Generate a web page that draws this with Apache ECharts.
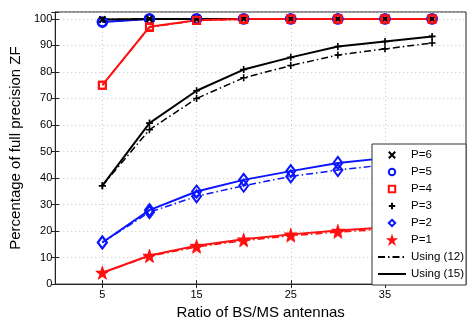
<!DOCTYPE html>
<html><head><meta charset="utf-8">
<script src="https://cdn.jsdelivr.net/npm/echarts@6/dist/echarts.min.js"></script>
<style>html,body{margin:0;padding:0;background:#fff}#c{width:474px;height:325px}</style>
</head><body><div id="c"></div>
<script>
const ratios = [5, 10, 15, 20, 25, 30, 35, 40];
const xTicks = [5, 15, 25, 35];
// "Using (15)" = solid, "Using (12)" = dash-dot
const p6_15 = [99.8, 100, 100, 100, 100, 100, 100, 100];
const p6_12 = [99.8, 100, 100, 100, 100, 100, 100, 100];
const p5_15 = [98.8, 100, 100, 100, 100, 100, 100, 100];
const p5_12 = [98.8, 100, 100, 100, 100, 100, 100, 100];
const p4_15 = [75, 97, 99.5, 100, 100, 100, 100, 100];
const p4_12 = [75, 96.8, 99.4, 99.8, 100, 100, 100, 100];
const p3_15 = [37.1, 60.7, 72.9, 80.9, 85.5, 89.6, 91.5, 93.4];
const p3_12 = [37.1, 58.2, 70.0, 77.8, 82.4, 86.4, 88.7, 90.9];
const p2_15 = [15.7, 27.9, 34.9, 39.3, 42.6, 45.7, 47.5, 49.0];
const p2_12 = [15.7, 27.1, 33.1, 37.1, 40.6, 43.0, 45.0, 46.5];
const p1_15 = [4.3, 10.8, 14.5, 16.9, 18.75, 20.2, 21.3, 22.2];
const p1_12 = [4.3, 10.5, 14.0, 16.4, 18.2, 19.6, 20.7, 21.6];

const RED = '#ff1010', BLUE = '#0a14ff', BLACK = '#000';
const SX = 'path://M0,0L10,10M10,0L0,10';
const SPLUS = 'path://M5,0L5,10M0,5L10,5';
const SSTAR = 'path://M50,0L61.8,36.2L100,36.2L69.1,58.8L80.9,95.1L50,72.7L19.1,95.1L30.9,58.8L0,36.2L38.2,36.2Z';
const DASHDOT = [7, 3, 1.5, 3];

const markers = {
  6: {symbol: SX, size: 6, color: BLACK, fill: 'transparent', bw: 2},
  5: {symbol: 'circle', size: 9, color: BLUE, fill: 'transparent', bw: 2.4},
  4: {symbol: 'rect', size: 7, color: RED, fill: 'transparent', bw: 2},
  3: {symbol: SPLUS, size: 7, color: BLACK, fill: 'transparent', bw: 1.6},
  2: {symbol: 'diamond', size: [9, 12], color: BLUE, fill: 'transparent', bw: 2},
  1: {symbol: SSTAR, size: 13, color: RED, fill: RED, bw: 0.5}
};

function mk(p, vals, dashed) {
  const m = markers[p];
  return {
    name: 'P=' + p + (dashed ? ' (12)' : ' (15)'),
    type: 'line',
    data: ratios.map((x, i) => [x, vals[i]]),
    symbol: m.symbol, symbolSize: m.size, showSymbol: true,
    lineStyle: {color: m.color, width: dashed ? 1.5 : 2, type: dashed ? DASHDOT : 'solid'},
    itemStyle: {color: m.fill, borderColor: m.color, borderWidth: m.bw},
    emphasis: {disabled: true}, animation: false, z: 2
  };
}
function legendOnly(p) {
  const m = markers[p];
  return {
    name: 'P=' + p, type: 'line', data: [],
    symbol: m.symbol, symbolSize: m.size,
    lineStyle: {width: 0, color: m.color, opacity: 0},
    itemStyle: {color: m.fill, borderColor: m.color, borderWidth: m.bw}
  };
}

const series = [
  mk(1, p1_12, true), mk(1, p1_15, false),
  mk(2, p2_12, true), mk(2, p2_15, false),
  mk(3, p3_12, true), mk(3, p3_15, false),
  mk(5, p5_12, true), mk(5, p5_15, false),
  mk(6, p6_12, true), mk(6, p6_15, false),
  mk(4, p4_12, true), mk(4, p4_15, false),
  legendOnly(6), legendOnly(5), legendOnly(4), legendOnly(3), legendOnly(2), legendOnly(1),
  {name: 'Using (12)', type: 'line', data: [], symbol: 'none', lineStyle: {color: BLACK, width: 1.5, type: DASHDOT}, itemStyle: {color: BLACK}},
  {name: 'Using (15)', type: 'line', data: [], symbol: 'none', lineStyle: {color: BLACK, width: 2}, itemStyle: {color: BLACK}}
];

const noMark = {color: 'transparent', borderColor: 'transparent', borderWidth: 0, opacity: 0};
const FONT = '"Liberation Sans", Arial, sans-serif';
const chart = echarts.init(document.getElementById('c'), null, {renderer: 'canvas'});
chart.setOption({
  animation: false,
  backgroundColor: '#fff',
  grid: {left: 45, right: 8, top: 12, bottom: 34, show: true, borderColor: '#222', borderWidth: 1, backgroundColor: 'transparent'},
  xAxis: [{
    type: 'value', min: 0, max: 43.6,
    name: 'Ratio of BS/MS antennas', nameLocation: 'middle', nameGap: 13,
    nameTextStyle: {fontFamily: FONT, fontSize: 15, color: '#000'},
    axisLine: {show: true, onZero: false, lineStyle: {color: '#222'}},
    axisTick: {show: true, inside: true, length: 4, customValues: xTicks, lineStyle: {color: '#222'}},
    axisLabel: {customValues: xTicks, fontFamily: FONT, fontSize: 11, color: '#000', margin: 5},
    splitLine: {show: true, lineStyle: {color: '#c8c8c8', type: [1, 3]}}
  }, {
    type: 'value', min: 0, max: 43.6, position: 'top',
    axisLine: {show: false},
    axisTick: {show: true, inside: true, length: 4, customValues: xTicks, lineStyle: {color: '#222'}},
    axisLabel: {show: false}, splitLine: {show: false}
  }],
  yAxis: [{
    type: 'value', min: 0, max: 102.6, interval: 10,
    name: 'Percentage of full precision ZF', nameLocation: 'middle', nameGap: 23,
    nameTextStyle: {fontFamily: FONT, fontSize: 15, color: '#000'},
    axisLine: {show: true, lineStyle: {color: '#222'}},
    axisTick: {show: true, inside: true, length: 4, lineStyle: {color: '#222'}},
    axisLabel: {fontFamily: FONT, fontSize: 11, color: '#000', margin: 3,
      formatter: v => (Math.abs(v % 10) < 1e-6 ? String(v) : '')},
    splitLine: {show: true, lineStyle: {color: '#c8c8c8', type: [1, 3]}}
  }, {
    type: 'value', min: 0, max: 102.6, interval: 10, position: 'right',
    axisLine: {show: false},
    axisTick: {show: true, inside: true, length: 4, lineStyle: {color: '#222'}},
    axisLabel: {show: false}, splitLine: {show: false}
  }],
  legend: {
    orient: 'vertical', left: 372, top: 144,
    data: ['P=6', 'P=5', 'P=4', 'P=3', 'P=2', 'P=1',
      {name: 'Using (12)', itemStyle: noMark},
      {name: 'Using (15)', itemStyle: noMark}],
    itemWidth: 28, itemHeight: 8, itemGap: 5,
    padding: [5, 2, 5, 5],
    backgroundColor: '#fff', borderColor: '#333', borderWidth: 1,
    textStyle: {fontFamily: FONT, fontSize: 11.5, lineHeight: 12, color: '#000'},
    selectedMode: false
  },
  series: series
});
</script></body></html>
